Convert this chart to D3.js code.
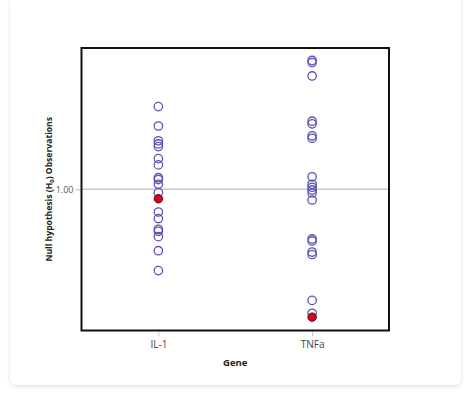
<!DOCTYPE html>
<html>
<head>
<meta charset="utf-8">
<script src="https://cdn.jsdelivr.net/npm/d3@7"></script>
<style>
  html, body { margin: 0; padding: 0; background: #fff; }
  body { width: 474px; height: 395px; overflow: hidden; position: relative; font-family: "Open Sans", "Noto Sans", sans-serif; }
  .card { position: absolute; left: 10px; top: -6px; width: 451px; height: 391px; background: #fff; border-radius: 6px;
    box-shadow: 0 2px 4px rgba(0,0,0,0.10), 0 0 2px rgba(0,0,0,0.05); }
  svg { position: absolute; left: 0; top: 0; }
</style>
</head>
<body>
<div class="card"></div>
<svg id="chart" width="474" height="395"></svg>
<script>
const genes = ["IL-1", "TNFa"];

// fold-change observations per gene (log scale)
const il1Values = [2.25, 1.86, 1.61, 1.56, 1.52, 1.35, 1.27, 1.12, 1.10, 1.05, 0.967, 0.80, 0.75, 0.675, 0.662, 0.628, 0.547, 0.45];
const il1Highlight = [0.911];
const tnfaValues = [3.54, 3.47, 3.04, 1.95, 1.90, 1.69, 1.65, 1.13, 1.05, 1.02, 0.993, 0.964, 0.90, 0.614, 0.602, 0.54, 0.527, 0.336, 0.296];
const tnfaHighlight = [0.285];

const yTicks = [1];

const points = [];
il1Values.forEach(v => points.push({ gene: "IL-1", value: v, hi: false }));
tnfaValues.forEach(v => points.push({ gene: "TNFa", value: v, hi: false }));
il1Highlight.forEach(v => points.push({ gene: "IL-1", value: v, hi: true }));
tnfaHighlight.forEach(v => points.push({ gene: "TNFa", value: v, hi: true }));

const svg = d3.select("#chart");
const margin = { top: 48, right: 85, bottom: 64.5, left: 81.5 };
const width = 474, height = 395;

const x = d3.scalePoint().domain(genes).range([margin.left, width - margin.right]).padding(0.5);
const y = d3.scaleLog().domain([0.25, 4]).range([height - margin.bottom, margin.top]);

// reference line at 1.00
svg.append("line")
  .attr("x1", margin.left).attr("x2", width - margin.right)
  .attr("y1", y(1)).attr("y2", y(1))
  .attr("stroke", "#c9c9c9").attr("stroke-width", 1.5);

// y axis
svg.append("g")
  .attr("transform", `translate(${margin.left},0)`)
  .call(d3.axisLeft(y).tickValues(yTicks).tickSize(6).tickPadding(2).tickFormat(d3.format(".2f")))
  .call(g => g.select(".domain").remove())
  .call(g => g.selectAll("line").attr("stroke", "#c9c9c9").attr("stroke-width", 1.2))
  .call(g => g.selectAll("text").attr("fill", "#555").attr("font-size", 9)
    .attr("font-family", "'Open Sans', sans-serif"));

// x axis
svg.append("g")
  .attr("transform", `translate(0,${height - margin.bottom})`)
  .call(d3.axisBottom(x).tickSize(6).tickPadding(4))
  .call(g => g.select(".domain").remove())
  .call(g => g.selectAll("line").attr("stroke", "#c9c9c9"))
  .call(g => g.selectAll("text").attr("fill", "#444").attr("font-size", 10)
    .attr("font-family", "'Open Sans', sans-serif"));

// points
svg.append("g")
  .selectAll("circle")
  .data(points)
  .join("circle")
  .attr("cx", d => x(d.gene))
  .attr("cy", d => y(d.value))
  .attr("r", 4.2)
  .attr("fill", d => d.hi ? "#e3001b" : "none")
  .attr("stroke", d => d.hi ? "#3a1010" : "#5a55b4")
  .attr("stroke-width", d => d.hi ? 1 : 1.3);

// frame
svg.append("rect")
  .attr("x", margin.left).attr("y", margin.top)
  .attr("width", width - margin.left - margin.right)
  .attr("height", height - margin.top - margin.bottom)
  .attr("fill", "none").attr("stroke", "#111").attr("stroke-width", 2);

// axis titles
svg.append("text")
  .attr("x", (margin.left + width - margin.right) / 2)
  .attr("y", 366)
  .attr("text-anchor", "middle")
  .attr("font-size", 9.5).attr("font-weight", "bold").attr("fill", "#222")
  .text("Gene");

const yt = svg.append("text")
  .attr("transform", `translate(52,${y(1)}) rotate(-90)`)
  .attr("text-anchor", "middle")
  .attr("font-size", 8.6).attr("font-weight", "bold").attr("fill", "#222");
yt.append("tspan").text("Null hypothesis (H");
yt.append("tspan").attr("font-size", 6).attr("dy", 2).text("0");
yt.append("tspan").attr("dy", -2).text(") Observations");
</script>
</body>
</html>
